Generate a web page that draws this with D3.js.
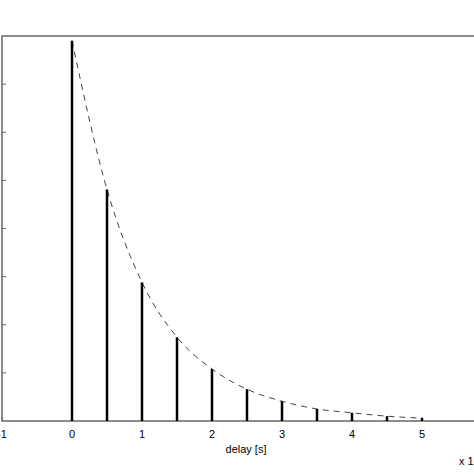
<!DOCTYPE html>
<html>
<head>
<meta charset="utf-8">
<script src="https://d3js.org/d3.v7.min.js"></script>
<style>
  body { margin: 0; background: #fff; }
  text { font-family: "Liberation Sans", Arial, sans-serif; }
</style>
</head>
<body>
<svg id="chart" width="474" height="474"></svg>
<script>
// delay in ms (axis shown as x 10^-3 s)
var delays = [0, 0.5, 1, 1.5, 2, 2.5, 3, 3.5, 4, 4.5, 5];
var amplitudes = [7.9, 4.81, 2.88, 1.74, 1.08, 0.66, 0.41, 0.25, 0.17, 0.10, 0.06];
var xTicks = [-1, 0, 1, 2, 3, 4, 5, 6];
var yTicks = [1, 2, 3, 4, 5, 6, 7];

var svg = d3.select("#chart");
var plotLeft = 2, plotTop = 36, plotBottom = 421;
var x = d3.scaleLinear().domain([-1, 6]).range([plotLeft, plotLeft + 490]);
var y = d3.scaleLinear().domain([0, 8]).range([plotBottom, plotTop]);

// box
svg.append("rect").attr("x", plotLeft).attr("y", plotTop)
   .attr("width", 490).attr("height", plotBottom - plotTop)
   .attr("fill", "none").attr("stroke", "#666").attr("stroke-width", 1.5);

// ticks
svg.selectAll(".yt").data(yTicks).enter().append("line")
   .attr("x1", plotLeft).attr("x2", plotLeft + 4)
   .attr("y1", d => y(d)).attr("y2", d => y(d))
   .attr("stroke", "#666");
svg.selectAll(".xt").data(xTicks).enter().append("line")
   .attr("x1", d => x(d)).attr("x2", d => x(d))
   .attr("y1", plotBottom).attr("y2", plotBottom - 4)
   .attr("stroke", "#666");
svg.selectAll(".xl").data(xTicks).enter().append("text")
   .attr("x", d => x(d)).attr("y", 438)
   .attr("text-anchor", "middle").attr("font-size", 11)
   .text(d => d);

svg.append("text").attr("x", 246).attr("y", 453)
   .attr("text-anchor", "middle").attr("font-size", 11).text("delay [s]");
svg.append("text").attr("x", 459).attr("y", 465)
   .attr("font-size", 11).text("x 10");

// dashed envelope
var line = d3.line().x((d, i) => x(delays[i])).y(d => y(d)).curve(d3.curveMonotoneX);
svg.append("path").datum(amplitudes).attr("d", line)
   .attr("fill", "none").attr("stroke", "#444").attr("stroke-width", 1)
   .attr("stroke-dasharray", "6,5");

// stems
svg.selectAll(".stem").data(amplitudes).enter().append("line")
   .attr("x1", (d, i) => x(delays[i])).attr("x2", (d, i) => x(delays[i]))
   .attr("y1", plotBottom).attr("y2", d => y(d))
   .attr("stroke", "#000").attr("stroke-width", 2.5);
</script>
</body>
</html>
